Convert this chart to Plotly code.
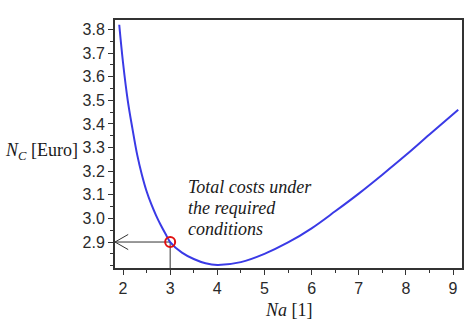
import plotly.graph_objects as go

# Data
na_values = [1.92, 2.0, 2.1, 2.2, 2.3, 2.4, 2.5, 2.6, 2.7, 2.8, 2.9, 3.0, 3.25, 3.5, 3.75, 4.0,
             4.5, 5.0, 5.5, 6.0, 6.5, 7.0, 7.5, 8.0, 8.5, 9.11]
cost_values = [3.82, 3.66, 3.50, 3.38, 3.27, 3.185, 3.115, 3.06, 3.013, 2.972, 2.935, 2.9, 2.855, 2.828, 2.81, 2.803,
               2.815, 2.85, 2.898, 2.958, 3.03, 3.105, 3.185, 3.268, 3.355, 3.46]
x_ticks = [2, 3, 4, 5, 6, 7, 8, 9]
y_ticks = [2.9, 3.0, 3.1, 3.2, 3.3, 3.4, 3.5, 3.6, 3.7, 3.8]
y_tick_labels = ["2.9", "3.0", "3.1", "3.2", "3.3", "3.4", "3.5", "3.6", "3.7", "3.8"]
opt_x = [3.0]
opt_y = [2.9]
note_lines = ["Total costs under", "the required", "conditions"]

x_range = [1.83, 9.19]
y_range = [2.79, 3.84]

fig = go.Figure()

# guide lines from the optimum point to the axes
fig.add_trace(go.Scatter(
    x=[x_range[0], opt_x[0], opt_x[0]], y=[opt_y[0], opt_y[0], y_range[0]],
    mode="lines", line=dict(color="#333333", width=1), hoverinfo="skip", showlegend=False))
# open arrowhead at the y axis
fig.add_trace(go.Scatter(
    x=[x_range[0] + 0.28, x_range[0], x_range[0] + 0.28],
    y=[opt_y[0] + 0.032, opt_y[0], opt_y[0] - 0.032],
    mode="lines", line=dict(color="#333333", width=1), hoverinfo="skip", showlegend=False))

fig.add_trace(go.Scatter(
    x=na_values, y=cost_values, mode="lines",
    line=dict(color="#3a3ae6", width=2, shape="spline", smoothing=1.0),
    showlegend=False))

fig.add_trace(go.Scatter(
    x=opt_x, y=opt_y, mode="markers",
    marker=dict(symbol="circle-open", size=10, color="#e01010", line=dict(width=2, color="#e01010")),
    showlegend=False))

serif = "Liberation Serif"
for i, txt in enumerate(note_lines):
    fig.add_annotation(
        x=3.33, y=3.135 - 0.09 * i, xref="x", yref="y", text="<i>" + txt + "</i>",
        showarrow=False, xanchor="left", yanchor="middle",
        font=dict(family=serif, size=18, color="#1a1a1a"))

fig.add_annotation(
    x=-0.1, y=0.47, xref="paper", yref="paper",
    text="<i>N</i><sub><i>C</i></sub> [Euro]", showarrow=False,
    xanchor="right", yanchor="middle",
    font=dict(family=serif, size=18, color="#1a1a1a"))

fig.add_annotation(
    x=0.5, y=-0.17, xref="paper", yref="paper",
    text="<i>Na</i> [1]", showarrow=False,
    xanchor="center", yanchor="middle",
    font=dict(family=serif, size=18, color="#1a1a1a"))

tick_font = dict(family="Liberation Sans", size=16, color="#2a2a2a")

fig.update_layout(
    width=474, height=335,
    margin=dict(l=115, r=10, t=20, b=67),
    paper_bgcolor="white", plot_bgcolor="white",
    xaxis=dict(range=x_range, tickvals=x_ticks, ticks="outside", ticklen=5, tickwidth=1,
               tickcolor="#333333", showline=True, linecolor="#333333", linewidth=2,
               mirror=True, showgrid=False, zeroline=False, tickfont=tick_font,
               minor=dict(dtick=0.5, tick0=2, ticks="outside", ticklen=3, tickcolor="#333333")),
    yaxis=dict(range=y_range, tickvals=y_ticks, ticktext=y_tick_labels, ticks="outside",
               ticklen=5, tickwidth=1, tickcolor="#333333", showline=True, linecolor="#333333",
               linewidth=2, mirror=True, showgrid=False, zeroline=False, tickfont=tick_font,
               minor=dict(dtick=0.05, tick0=2.8, ticks="outside", ticklen=3, tickcolor="#333333")),
)

fig.write_html("out.html")
